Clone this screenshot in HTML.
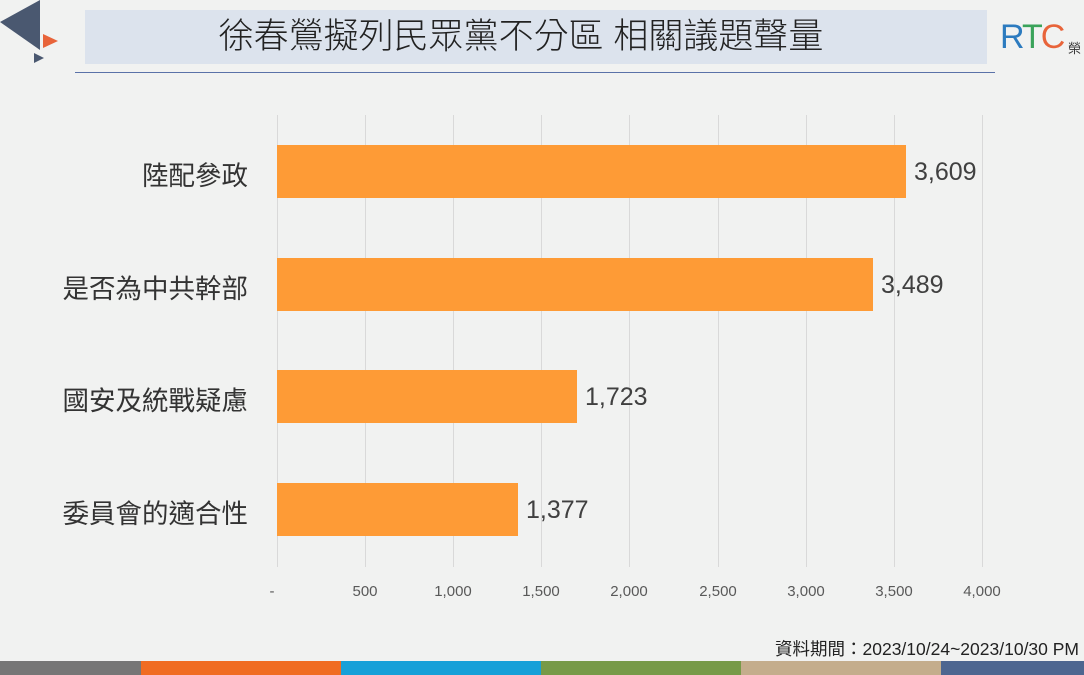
<!DOCTYPE html>
<html><head><meta charset="utf-8"><style>
body{margin:0;width:1084px;height:675px;background:#f1f2f1;position:relative;overflow:hidden;font-family:"Liberation Sans","Noto Sans CJK TC",sans-serif}
.a{position:absolute}
.lbl{position:absolute;right:836px;font-size:26.5px;color:#333;white-space:nowrap}
.bar{position:absolute;left:277px;height:53px;background:#fe9b36}
.val{position:absolute;font-size:25px;color:#404040}
.tk{position:absolute;top:583px;font-size:15px;color:#595959;width:60px;text-align:center}
.g{position:absolute;top:115px;height:452px;width:1px;background:#d9d9d9}
</style></head><body>
<svg class="a" style="left:0;top:0" width="70" height="70"><polygon points="40,0 40,50 0,22" fill="#4a5870"/><polygon points="43,34 58,41 43,48" fill="#e8643a"/><polygon points="34,53 44,58 34,63" fill="#4a5870"/></svg>
<div class="a" style="left:85px;top:10px;width:902px;height:54px;background:#dce3ed"></div>
<div class="a" style="left:70px;top:10px;width:902px;height:54px;line-height:54px;text-align:center;font-size:35px;font-weight:300;color:#222">徐春鶯擬列民眾黨不分區 相關議題聲量</div>
<div class="a" style="left:75px;top:72px;width:920px;height:1px;background:#5a72a8"></div>
<div class="a" style="left:1000px;top:18px;font-size:34px;letter-spacing:-2px"><span style="color:#2c7bbf">R</span><span style="color:#3aa35a">T</span><span style="color:#e8643a">C</span></div>
<div class="a" style="left:1068px;top:38px;font-size:13px;color:#333">榮</div>
<div class="g" style="left:277px"></div><div class="g" style="left:365px"></div><div class="g" style="left:453px"></div><div class="g" style="left:541px"></div><div class="g" style="left:629px"></div><div class="g" style="left:718px"></div><div class="g" style="left:806px"></div><div class="g" style="left:894px"></div><div class="g" style="left:982px"></div>
<div class="lbl" style="top:154px">陸配參政</div>
<div class="lbl" style="top:267px">是否為中共幹部</div>
<div class="lbl" style="top:379px">國安及統戰疑慮</div>
<div class="lbl" style="top:492px">委員會的適合性</div>
<div class="bar" style="top:145px;width:629px"></div>
<div class="bar" style="top:258px;width:596px"></div>
<div class="bar" style="top:370px;width:300px"></div>
<div class="bar" style="top:483px;width:241px"></div>
<div class="val" style="left:914px;top:158px">3,609</div>
<div class="val" style="left:881px;top:271px">3,489</div>
<div class="val" style="left:585px;top:383px">1,723</div>
<div class="val" style="left:526px;top:496px">1,377</div>
<div class="tk" style="left:242px">-</div><div class="tk" style="left:335px">500</div><div class="tk" style="left:423px">1,000</div><div class="tk" style="left:511px">1,500</div><div class="tk" style="left:599px">2,000</div><div class="tk" style="left:688px">2,500</div><div class="tk" style="left:776px">3,000</div><div class="tk" style="left:864px">3,500</div><div class="tk" style="left:952px">4,000</div>
<div class="a" style="left:775px;top:636px;font-size:17.5px;color:#222;white-space:nowrap">資料期間：2023/10/24~2023/10/30 PM</div>
<div class="a" style="left:0;top:661px;width:141px;height:14px;background:#767676"></div>
<div class="a" style="left:141px;top:661px;width:200px;height:14px;background:#f06c22"></div>
<div class="a" style="left:341px;top:661px;width:200px;height:14px;background:#17a0d8"></div>
<div class="a" style="left:541px;top:661px;width:200px;height:14px;background:#779a48"></div>
<div class="a" style="left:741px;top:661px;width:200px;height:14px;background:#c4ad8c"></div>
<div class="a" style="left:941px;top:661px;width:143px;height:14px;background:#4d6690"></div>
</body></html>
